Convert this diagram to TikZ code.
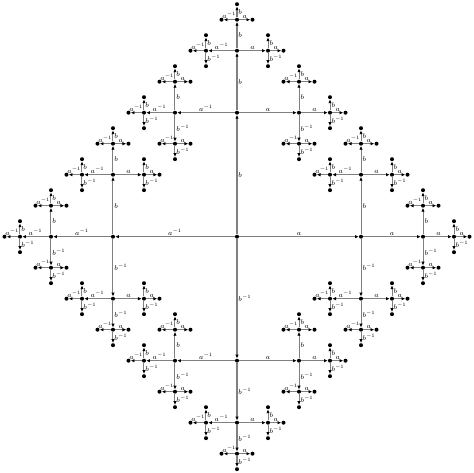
\documentclass[tikz,border=0pt]{standalone}
\usetikzlibrary{arrows.meta}
\tikzset{
  dot/.style={circle,fill=black,inner sep=0pt,minimum size=4pt},
  edge/.style={draw=gray,line width=1pt,-{Latex[length=3.8pt,width=3.4pt,color=black]}},
  lab/.style={inner sep=1pt,font=\fontsize{7}{8}\selectfont}
}
\newcommand\edgelab[1]{\ifcase#1\or$a$\or$b$\or$a^{-1}$\or$b^{-1}$\fi}
\newcommand\growtree[4]{%
  \ifnum#4>0
    \foreach \e in {1,2,3,4}{%
      \ifnum#2=0 \def\back{0}\else
        \ifnum#2>2 \edef\back{\the\numexpr#2-2\relax}\else\edef\back{\the\numexpr#2+2\relax}\fi
      \fi
      \ifnum\e=\back\relax\else
        \pgfmathsetmacro\ang{(\e-1)*90}%
        \ifodd\e \def\lanc{south}\else\def\lanc{west}\fi
        \path (#1) ++(\ang:#3pt) node[dot] (#1\e) {};
        \draw[edge] (#1) -- node[lab,anchor=\lanc] {\edgelab{\e}} (#1\e);
        \pgfmathsetmacro\half{#3/2}%
        \edef\next{\noexpand\growtree{#1\e}{\e}{\half}{\the\numexpr#4-1\relax}}\next
      \fi}%
  \fi}
\begin{document}
\begin{tikzpicture}
\useasboundingbox (-237pt,-236.3pt) rectangle (237pt,236.7pt);
\node[dot] (v) at (0,0) {};
\growtree{v}{0}{124}{4}
\end{tikzpicture}
\end{document}
